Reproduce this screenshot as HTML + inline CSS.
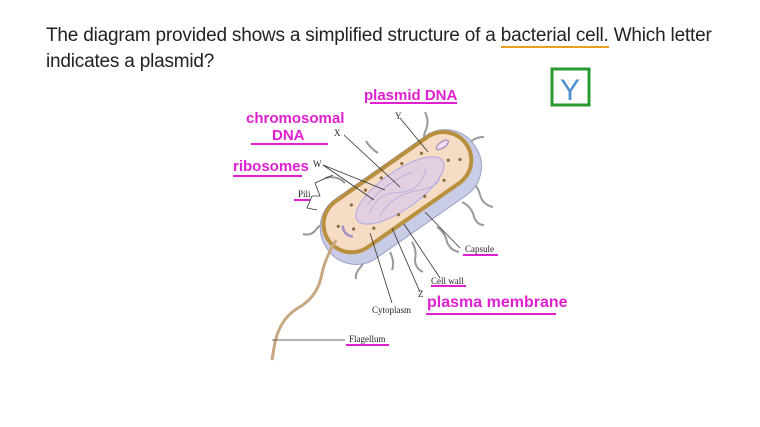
<!DOCTYPE html>
<html><head><meta charset="utf-8"><style>
html,body{margin:0;padding:0;background:#fff}
body{width:760px;height:427px;overflow:hidden;position:relative;font-family:"Liberation Sans",sans-serif}
.h{position:absolute;font-family:"Comic Sans MS","Liberation Sans",sans-serif;color:#222;font-size:19px;letter-spacing:-0.2px}
</style></head><body>
<div class="h" style="left:46px;top:25px">The diagram provided shows a simplified structure of a <span style="border-bottom:2px solid #e8a020">bacterial cell.</span> Which letter</div>
<div class="h" style="left:46px;top:51px">indicates a plasmid?</div>
<svg width="760" height="427" style="position:absolute;left:0;top:0">
<rect x="552" y="69" width="37" height="36" fill="none" stroke="#2a9a30" stroke-width="3"/>
<text x="570" y="100" font-size="30" fill="#4a90d0" text-anchor="middle" font-family="Liberation Sans">Y</text>
<g font-family="Liberation Sans" fill="#e020d0" font-size="15" font-weight="bold">
<text x="364" y="100">plasmid DNA</text>
<line x1="370" y1="103" x2="457" y2="103" stroke="#e020d0" stroke-width="2"/>
<text x="246" y="123">chromosomal</text>
<text x="272" y="140">DNA</text>
<line x1="251" y1="144" x2="328" y2="144" stroke="#e020d0" stroke-width="2"/>
<text x="233" y="171">ribosomes</text>
<line x1="233" y1="176" x2="302" y2="176" stroke="#e020d0" stroke-width="2"/>
<text x="427" y="307" font-size="16">plasma membrane</text>
<line x1="426" y1="314" x2="556" y2="314" stroke="#e020d0" stroke-width="2"/>
</g>
<g stroke="#e020d0" stroke-width="2">
<line x1="294" y1="200" x2="310" y2="200"/><line x1="463" y1="255" x2="498" y2="255"/>
<line x1="431" y1="286" x2="466" y2="286"/><line x1="346" y1="345" x2="389" y2="345"/>
</g>
<g fill="none" stroke="#999" stroke-width="2">
<path d="M425 112 q5 10 0 20 q-3 8 3 14"/><path d="M484 137 q-12 0 -17 10 q-4 6 -8 8"/>
<path d="M468 180 q10 5 12 15 q3 10 13 12"/><path d="M462 202 q10 5 12 15 q3 8 10 8"/>
<path d="M437 227 q8 5 10 15 q3 8 12 10"/><path d="M412 242 q5 8 3 18 q0 8 8 12"/>
<path d="M390 252 q5 10 2 18"/><path d="M367 254 q-3 10 -8 15 q-4 5 -3 10"/>
<path d="M330 223 q-10 0 -15 8 q-5 5 -12 3"/><path d="M345 183 q-8 -8 -20 -5"/>
<path d="M378 153 q-8 -5 -12 -12"/>
</g>
<g transform="translate(398,193) rotate(-35)">
<rect x="-90" y="-31" width="180" height="72" rx="35" fill="#c8cce6" stroke="#9aa0c6"/>
<rect x="-86" y="-31" width="172" height="60" rx="30" fill="#b8903e"/>
<rect x="-82" y="-27" width="164" height="52" rx="26" fill="#f6dcc4"/>
<ellipse cx="3" cy="-1" rx="52" ry="19" fill="#e2d0e0" stroke="#b8b0e0" stroke-width="1.2"/>
<path d="M-35 0 q18 -12 36 0 t36 -4 M-28 8 q22 -10 45 1 t27 0 M-32 -8 q28 -8 56 -1" fill="none" stroke="#b8b0e0" stroke-width="1"/>
<ellipse cx="64" cy="-14" rx="7" ry="3" fill="#f0e0ee" stroke="#a090c0" stroke-width="1.3"/>
<path d="M-64 -5 q-5 8 2 15" fill="none" stroke="#a090c0" stroke-width="2.5"/>
<g fill="#8a6a40">
<circle cx="-45" cy="-17" r="1.6"/><circle cx="-25" cy="-21" r="1.6"/><circle cx="-5" cy="-22" r="1.6"/><circle cx="20" cy="-22" r="1.6"/><circle cx="42" cy="-19" r="1.6"/><circle cx="60" cy="2" r="1.6"/><circle cx="45" cy="16" r="1.6"/><circle cx="20" cy="18" r="1.6"/><circle cx="-12" cy="18" r="1.6"/><circle cx="-40" cy="15" r="1.6"/><circle cx="-57" cy="4" r="1.6"/><circle cx="-68" cy="-7" r="1.6"/><circle cx="70" cy="8" r="1.6"/>
</g>
</g>
<path d="M336 240 q-12 20 -15 38 q-5 20 -23 30 q-20 12 -24 40 l-2 12" fill="none" stroke="#c8a880" stroke-width="3"/>
<g stroke="#333" stroke-width="0.8" fill="none">
<line x1="400" y1="118" x2="428" y2="152"/><line x1="344" y1="135" x2="400" y2="187"/>
<line x1="323" y1="165" x2="385" y2="190"/><line x1="323" y1="165" x2="374" y2="200"/>
<path d="M312 196 l8 0 l-5 -13 l18 -8 M312 196 l-5 12 l10 2"/>
<line x1="460" y1="248" x2="425" y2="212"/><line x1="440" y1="278" x2="404" y2="224"/>
<line x1="420" y1="292" x2="392" y2="228"/><line x1="392" y1="303" x2="370" y2="233"/>
<line x1="272" y1="340" x2="345" y2="340"/>
</g>
<g font-family="Liberation Serif" font-size="9" fill="#222">
<text x="395" y="119">Y</text><text x="334" y="136">X</text><text x="313" y="167">W</text>
<text x="298" y="197">Pili</text><text x="465" y="252">Capsule</text><text x="431" y="284">Cell wall</text>
<text x="418" y="297">Z</text><text x="372" y="313">Cytoplasm</text><text x="349" y="342">Flagellum</text>
</g>
</svg>
</body></html>
